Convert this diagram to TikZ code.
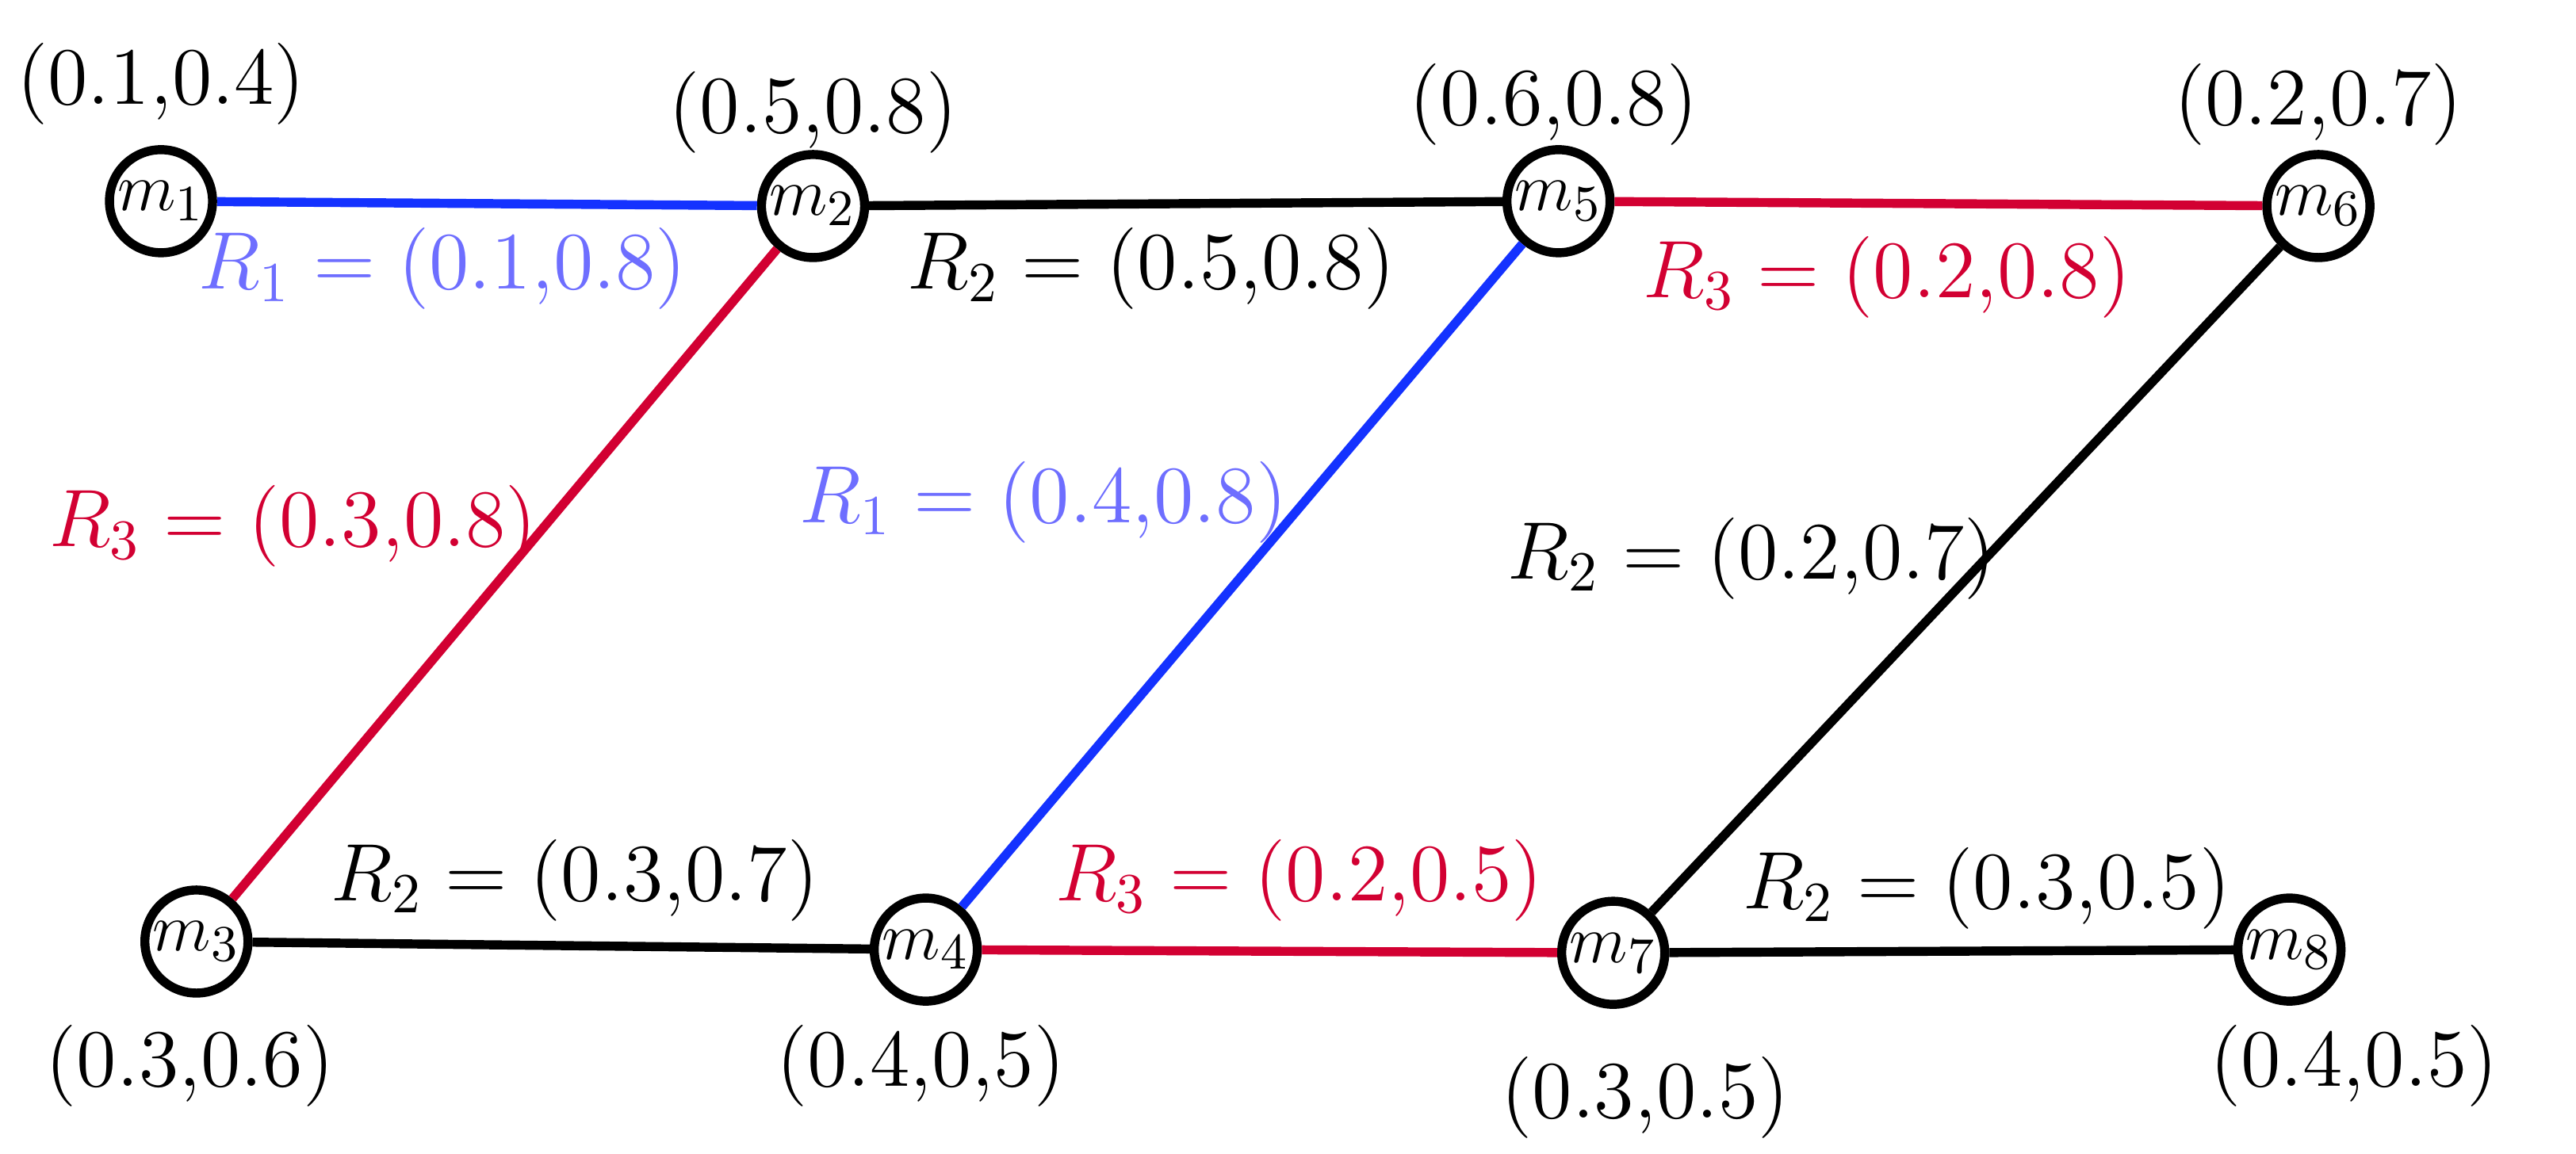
\documentclass[tikz,border=0pt]{standalone}
\begin{document}
\begin{tikzpicture}[x=0.01cm,y=-0.01cm,
  mnode/.style={circle,draw,line width=1.6pt,minimum size=0.64cm,inner sep=0pt,font=\fontsize{12.5}{15}\selectfont},
  lbl/.style={font=\fontsize{14.5}{17}\selectfont},
  ed/.style={line width=1.6pt},
  blu/.style={ed,draw={rgb,255:red,20;green,50;blue,255}},
  rd/.style={ed,draw={rgb,255:red,210;green,0;blue,50}}]
\definecolor{lblue}{RGB}{110,110,255}
\definecolor{lred}{RGB}{210,0,50}
\useasboundingbox (0,0) rectangle (1600,717);
\node[mnode] (m1) at (100,125) {$m_1$};
\node[mnode] (m2) at (505,128) {$m_2$};
\node[mnode] (m5) at (968,125) {$m_5$};
\node[mnode] (m6) at (1440,128) {$m_6$};
\node[mnode] (m3) at (122,585) {$m_3$};
\node[mnode] (m4) at (575,590) {$m_4$};
\node[mnode] (m7) at (1002,592) {$m_7$};
\node[mnode] (m8) at (1422,590) {$m_8$};
\draw[blu] (m1) -- (m2);
\draw[ed] (m2) -- (m5);
\draw[rd] (m5) -- (m6);
\draw[rd] (m2) -- (m3);
\draw[blu] (m5) -- (m4);
\draw[ed] (m6) -- (m7);
\draw[ed] (m3) -- (m4);
\draw[rd] (m4) -- (m7);
\draw[ed] (m7) -- (m8);
\node[lbl] (a1) at (100,52) {$(0.1{,}0.4)$};
\node[lbl] (a2) at (505,70) {$(0.5{,}0.8)$};
\node[lbl] (a5) at (965,65) {$(0.6{,}0.8)$};
\node[lbl] (a6) at (1440,65) {$(0.2{,}0.7)$};
\node[lbl] (a3) at (118,662) {$(0.3{,}0.6)$};
\node[lbl] (a4) at (572,662) {$(0.4{,}0{,}5)$};
\node[lbl] (a7) at (1022,682) {$(0.3{,}0.5)$};
\node[lbl] (a8) at (1462,662) {$(0.4{,}0.5)$};
\node[lbl,text=lblue] (e1) at (275,167) {$R_1=(0.1{,}0.8)$};
\node[lbl] (e2) at (715,167) {$R_2=(0.5{,}0.8)$};
\node[lbl,text=lred] (e3) at (1172,172) {$R_3=(0.2{,}0.8)$};
\node[lbl,text=lred] (e4) at (182,327) {$R_3=(0.3{,}0.8)$};
\node[lbl,text=lblue] (e5) at (648,312) {$R_1=(0.4{,}0.8)$};
\node[lbl] (e6) at (1088,347) {$R_2=(0.2{,}0.7)$};
\node[lbl] (e7) at (357,547) {$R_2=(0.3{,}0.7)$};
\node[lbl,text=lred] (e8) at (807,547) {$R_3=(0.2{,}0.5)$};
\node[lbl] (e9) at (1234,552) {$R_2=(0.3{,}0.5)$};
\end{tikzpicture}
\end{document}
